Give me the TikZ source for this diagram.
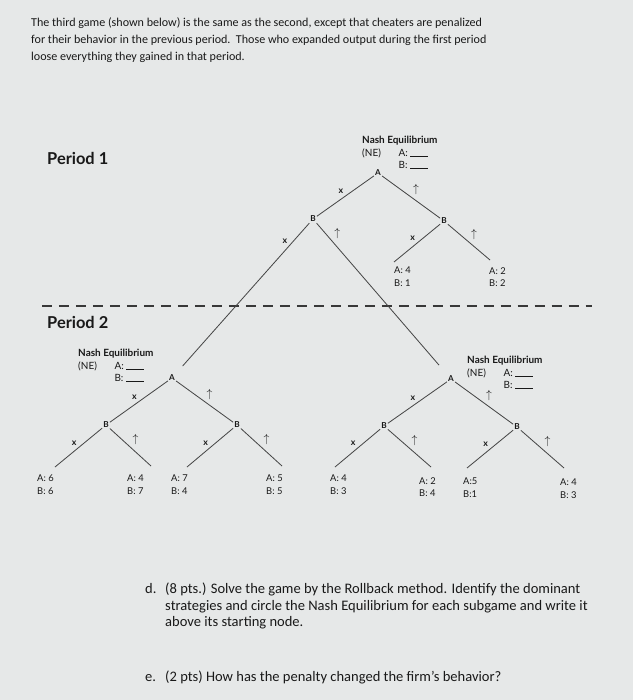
\documentclass[tikz,border=0pt]{standalone}
\usepackage{fontspec}
\setmainfont{Carlito}
\newfontfamily\treefont{Lato}
\usepackage{tikz}
\usetikzlibrary{positioning}
\usepackage{xcolor}
\definecolor{bggray}{RGB}{230,232,232}
\definecolor{linegray}{RGB}{70,70,70}
\definecolor{inkgray}{RGB}{25,25,25}
\newcommand{\neblank}{\rule{15pt}{0.4pt}}
\newcommand{\upmove}{{\fontsize{10}{10}\selectfont$\uparrow$}}

\begin{document}
\begin{tikzpicture}[x=0.03cm, y=-0.03cm,
    every node/.style={text=inkgray},
    edge/.style={draw=linegray, line width=0.7pt},
    player/.style={font=\treefont\bfseries\fontsize{7}{8}\selectfont, inner sep=0.8pt},
    mv/.style={font=\treefont\bfseries\fontsize{7.5}{8}\selectfont, inner sep=1.5pt},
    pay/.style={font=\treefont\fontsize{8}{11}\selectfont, align=left, anchor=north west, inner sep=0pt},
    ne/.style={font=\treefont\fontsize{8.5}{10.6}\selectfont, align=left, anchor=north west, inner sep=0pt},
    period/.style={font=\treefont\bfseries\fontsize{14}{16}\selectfont, anchor=west, inner sep=0pt},
    prose/.style={font=\fontsize{10.3}{14.8}\selectfont, align=left, anchor=north west, inner sep=0pt},
    ask/.style={font=\fontsize{12.4}{14}\selectfont, align=left, anchor=north west, inner sep=0pt}]
        % Background / page
        \fill[bggray] (0,0) rectangle (633,700);
        % Intro text
        \node[prose] (intro) at (31,17) {The third game (shown below) is the same as the second, except that cheaters are penalized\\
          for their behavior in the previous period.\ \ Those who expanded output during the first period\\
          loose everything they gained in that period.};
        % Period labels and divider
        \node[period] (per1) at (47,158) {Period 1};
        \node[period] (per2) at (47,322) {Period 2};
        \coordinate (divl) at (42,306);
        \coordinate (divr) at (592,306);
        \draw[linegray!80!black, line width=1.1pt, dash pattern=on 8.5pt off 6pt] (divl) -- (divr);

        % Period 1 tree
        \node[ne] (ne1) at (362,136) {\textbf{Nash Equilibrium}\\\makebox[31pt][l]{(NE)}A: \neblank\\\hspace*{31pt}B: \neblank};
        \node[player] (r) at (378,173) {A};
        \node[player] (b1) at (313,219) {B};
        \node[player] (b2) at (444,221) {B};
        \coordinate (l1) at (394,262);
        \coordinate (l2) at (490,260);
        \node[pay] (p1) at (394,267) {A: 4\\B: 1};
        \node[pay] (p2) at (489,267) {A: 2\\B: 2};
        \draw[edge] (r) -- node[mv, above left] {x} (b1);
        \draw[edge] (r) -- node[mv, above right] {\upmove} (b2);
        \draw[edge] (b2) -- node[mv, above left] {x} (l1);
        \draw[edge] (b2) -- node[mv, above right] {\upmove} (l2);

        % Period 2, left subgame
        \node[ne] (ne2) at (78,349) {\textbf{Nash Equilibrium}\\\makebox[31pt][l]{(NE)}A: \neblank\\\hspace*{31pt}B: \neblank};
        \node[player] (a2) at (172,378) {A};
        \node[player] (c1) at (106,425) {B};
        \node[player] (c2) at (237,425) {B};
        \coordinate (m1) at (55,467);
        \coordinate (m2) at (151,466);
        \coordinate (m3) at (187,467);
        \coordinate (m4) at (282,466);
        \node[pay] (q1) at (37,475) {A: 6\\B: 6};
        \node[pay] (q2) at (127,475) {A: 4\\B: 7};
        \node[pay] (q3) at (171,475) {A: 7\\B: 4};
        \node[pay] (q4) at (266,475) {A: 5\\B: 5};
        \draw[edge] (a2) -- node[mv, above left] {x} (c1);
        \draw[edge] (a2) -- node[mv, above right] {\upmove} (c2);
        \draw[edge] (c1) -- node[mv, above left] {x} (m1);
        \draw[edge] (c1) -- node[mv, above right] {\upmove} (m2);
        \draw[edge] (c2) -- node[mv, above left] {x} (m3);
        \draw[edge] (c2) -- node[mv, above right] {\upmove} (m4);

        % Period 2, right subgame
        \node[ne] (ne3) at (467,356) {\textbf{Nash Equilibrium}\\\makebox[31pt][l]{(NE)}A: \neblank\\\hspace*{31pt}B: \neblank};
        \node[player] (a3) at (451,379) {A};
        \node[player] (d1) at (384,426) {B};
        \node[player] (d2) at (517,427) {B};
        \coordinate (n1) at (335,467);
        \coordinate (n2) at (431,467);
        \coordinate (n3) at (467,468);
        \coordinate (n4) at (564,468);
        \node[pay] (s1) at (330,475) {A: 4\\B: 3};
        \node[pay] (s2) at (419,477) {A: 2\\B: 4};
        \node[pay] (s3) at (463,478) {A:5\\B:1};
        \node[pay] (s4) at (560,479) {A: 4\\B: 3};
        \draw[edge] (a3) -- node[mv, above left] {x} (d1);
        \draw[edge] (a3) -- node[mv, above right] {\upmove} (d2);
        \draw[edge] (d1) -- node[mv, above left] {x} (n1);
        \draw[edge] (d1) -- node[mv, above right] {\upmove} (n2);
        \draw[edge] (d2) -- node[mv, above left] {x} (n3);
        \draw[edge] (d2) -- node[mv, above right] {\upmove} (n4);

        % Links from period 1 into period 2
        \draw[edge, shorten >=9pt] (b1) -- node[mv, pos=0.15, above left] {x} (a2);
        \draw[edge, shorten >=11pt] (b1) -- node[mv, pos=0.12, above right] {\upmove} (a3);

        % Questions
        \node[ask] (qd) at (145,582) {\strut d.};
        \node[ask] (qdtext) at (165,582) {\strut(8 pts.) Solve the game by the Rollback method. Identify the dominant\\
          strategies and circle the Nash Equilibrium for each subgame and write it\\
          above its starting node.};
        \node[ask] (qe) at (145,670) {\strut e.};
        \node[ask] (qetext) at (165,670) {\strut(2 pts) How has the penalty changed the firm’s behavior?};
      \end{tikzpicture}
\end{document}
